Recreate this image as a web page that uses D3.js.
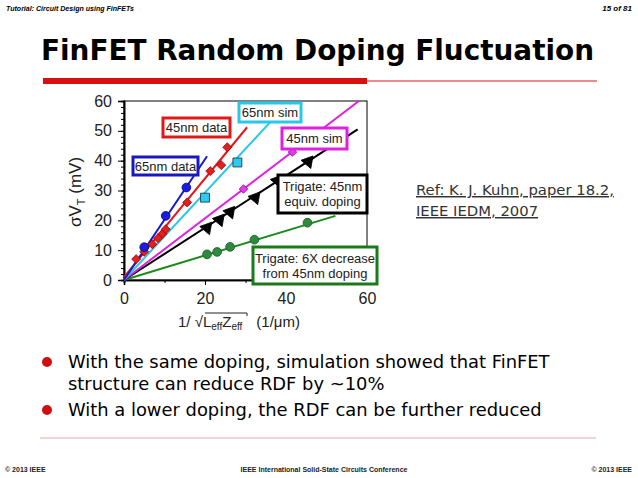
<!DOCTYPE html>
<html><head><meta charset="utf-8">
<script src="https://cdn.jsdelivr.net/npm/d3@7"></script>
<style>
html,body{margin:0;padding:0;background:#fff;}
svg{display:block;}
</style></head>
<body>
<svg id="c" width="638" height="478"></svg>
<script>
// ---- data ----
const xTicks = [0, 20, 40, 60];
const yTicks = [0, 10, 20, 30, 40, 50, 60];
const data65nm = [[5, 11], [10.3, 21.5], [15.4, 31]];
const fit65nm = [[0, 0], [20.5, 41.5]];
const data45nm = [[3, 7], [5, 9.5], [7, 12], [8.4, 14], [9.5, 15.5], [10.3, 17], [15.6, 26], [21.3, 36.5], [24, 38.5], [25.5, 44.5]];
const fit45nm = [[0, 1], [30.4, 51.2]];
const sim65nm = [[20, 27.6], [28, 39.4]];
const fitSim65 = [[0, 0], [40, 58.6]];
const sim45nm = [[29.5, 30.5], [41.6, 42.9]];
const fitSim45 = [[0, 0], [58, 60]];
const trigate45 = [[20.5, 17.5], [23.6, 20.2], [26.2, 22.8], [32.4, 27.6], [37.9, 33.3], [45.5, 39.7]];
const fitTri45 = [[0, 0], [57.7, 50.5]];
const trigate6x = [[20.5, 8.6], [23, 9.4], [26.2, 11.1], [32.2, 13.5], [45.3, 19.2]];
const fitTri6x = [[0, 0], [52.2, 21.5]];
const bullets = [
  ["With the same doping, simulation showed that FinFET", "structure can reduce RDF by ~10%"],
  ["With a lower doping, the RDF can be further reduced"]
];

const svg = d3.select("#c");
const x = d3.scaleLinear().domain([0, 60]).range([124, 367]);
const y = d3.scaleLinear().domain([0, 60]).range([280, 101]);

// ---- slide chrome ----
svg.append("text").attr("x", 6).attr("y", 11).attr("font-family", "Liberation Sans, Arial")
  .attr("font-size", 8).attr("font-weight", "bold").attr("font-style", "italic")
  .attr("textLength", 128).attr("lengthAdjust", "spacingAndGlyphs").text("Tutorial: Circuit Design using FinFETs");
svg.append("text").attr("x", 632).attr("y", 11).attr("text-anchor", "end").attr("font-family", "Liberation Sans, Arial")
  .attr("font-size", 8).attr("font-weight", "bold").attr("font-style", "italic").text("15 of 81");

svg.append("text").attr("x", 41).attr("y", 60).attr("font-family", "DejaVu Sans, Verdana")
  .attr("font-size", 28).attr("font-weight", "bold").attr("fill", "#000")
  .attr("textLength", 553).attr("lengthAdjust", "spacingAndGlyphs").text("FinFET Random Doping Fluctuation");
svg.append("line").attr("x1", 43).attr("x2", 597).attr("y1", 81).attr("y2", 81).attr("stroke", "#d01818").attr("stroke-width", 1);
svg.append("rect").attr("x", 43).attr("y", 78).attr("width", 324).attr("height", 6).attr("fill", "#d81010");

// ---- chart ----
const g = svg.append("g");
g.append("rect").attr("x", x(0)).attr("y", y(60)).attr("width", x(60) - x(0)).attr("height", y(0) - y(60))
  .attr("fill", "none").attr("stroke", "#000").attr("stroke-width", 1);

const yAxis = d3.axisLeft(y).tickValues(yTicks).tickSize(6).tickFormat(d3.format("d"));
const yMinor = d3.axisLeft(y).tickValues(d3.range(0, 61, 2)).tickSize(3).tickFormat("");
const xAxis = d3.axisBottom(x).tickValues(xTicks).tickSize(5).tickFormat(d3.format("d"));
const xMinor = d3.axisBottom(x).tickValues(d3.range(0, 61, 10)).tickSize(3).tickFormat("");

function styleAxis(sel) {
  sel.select(".domain").attr("stroke", "#000").attr("stroke-width", 1.6);
  sel.selectAll(".tick line").attr("stroke", "#000").attr("stroke-width", 1);
  sel.selectAll(".tick text").attr("font-family", "Liberation Sans, Arial").attr("font-size", 16).attr("fill", "#222");
}
g.append("g").attr("transform", `translate(${x(0)},0)`).call(yMinor).call(styleAxis);
g.append("g").attr("transform", `translate(${x(0)},0)`).call(yAxis).call(styleAxis)
  .selectAll(".tick text").attr("dx", -3);
g.append("g").attr("transform", `translate(0,${y(0)})`).call(xMinor).call(styleAxis);
g.append("g").attr("transform", `translate(0,${y(0)})`).call(xAxis).call(styleAxis)
  .selectAll(".tick text").attr("dy", "1.0em");

// axis labels
const yl = g.append("text").attr("transform", `translate(81,192) rotate(-90)`).attr("text-anchor", "middle")
  .attr("font-family", "Liberation Sans, Arial").attr("font-size", 17).attr("fill", "#222");
yl.append("tspan").text("σV");
yl.append("tspan").attr("font-size", 11).attr("dy", 4).text("T");
yl.append("tspan").attr("dy", -4).text(" (mV)");

const xl = g.append("text").attr("x", 178).attr("y", 327).attr("font-family", "Liberation Sans, Arial")
  .attr("font-size", 15).attr("fill", "#222");
xl.append("tspan").text("1/ √");
xl.append("tspan").text("L");
xl.append("tspan").attr("font-size", 10).attr("dy", 3).text("eff");
xl.append("tspan").attr("dy", -3).text("Z");
xl.append("tspan").attr("font-size", 10).attr("dy", 3).text("eff");
xl.append("tspan").attr("dy", -3).attr("dx", 14).text("(1/μm)");
g.append("line").attr("x1", 205).attr("x2", 247).attr("y1", 313).attr("y2", 313).attr("stroke", "#222").attr("stroke-width", 1);
g.append("line").attr("x1", 247).attr("x2", 247).attr("y1", 313).attr("y2", 316).attr("stroke", "#222").attr("stroke-width", 1);

// lines and points
const line = d3.line().x(d => x(d[0])).y(d => y(d[1]));
function drawLine(pts, color) {
  g.append("path").attr("d", line(pts)).attr("fill", "none").attr("stroke", color).attr("stroke-width", 2);
}
function drawPts(pts, sym, size, fill, stroke, rot) {
  g.selectAll(null).data(pts).enter().append("path")
    .attr("d", d3.symbol().type(sym).size(size))
    .attr("transform", d => `translate(${x(d[0])},${y(d[1])}) rotate(${rot || 0})`)
    .attr("fill", fill).attr("stroke", stroke).attr("stroke-width", 0.8);
}
drawLine(fitTri6x, "#1a8a1a");
drawLine(fitTri45, "#000");
drawLine(fitSim45, "#e020e0");
drawLine(fitSim65, "#28c8e8");
drawLine(fit45nm, "#e01818");
drawLine(fit65nm, "#1818d0");

drawPts(trigate6x, d3.symbolCircle, 60, "#2e8b3e", "#135a20");
drawPts(trigate45, d3.symbolTriangle, 70, "#000", "#000", -80);
drawPts(sim45nm, d3.symbolSquare, 36, "#e040e0", "#a000a0", 45);
drawPts(sim65nm, d3.symbolSquare, 80, "#30c8ec", "#103040");
drawPts(data45nm, d3.symbolSquare, 40, "#e02020", "#a00000", 45);
drawPts(data65nm, d3.symbolCircle, 60, "#1c1ce0", "#000080");

// annotation boxes
const notes = [
  {x: 163, y: 118, w: 67, h: 19, c: "#e01818", t: ["45nm data"]},
  {x: 133, y: 157, w: 65, h: 18, c: "#1818c0", t: ["65nm data"]},
  {x: 239, y: 103, w: 62, h: 19, c: "#28c8e8", t: ["65nm sim"]},
  {x: 282, y: 128, w: 65, h: 21, c: "#e020e0", t: ["45nm sim"]},
  {x: 278, y: 175, w: 89, h: 38, c: "#000", t: ["Trigate: 45nm", "equiv. doping"]},
  {x: 253, y: 247, w: 124, h: 37, c: "#1a7a1a", t: ["Trigate: 6X decrease", "from 45nm doping"]}
];
notes.forEach(n => {
  g.append("rect").attr("x", n.x).attr("y", n.y).attr("width", n.w).attr("height", n.h)
    .attr("fill", "#fff").attr("stroke", n.c).attr("stroke-width", 3);
  const lh = 15;
  const y0 = n.y + n.h / 2 - (n.t.length - 1) * lh / 2 + 4.5;
  n.t.forEach((s, i) => {
    g.append("text").attr("x", n.x + n.w / 2).attr("y", y0 + i * lh).attr("text-anchor", "middle")
      .attr("font-family", "Liberation Sans, Arial").attr("font-size", 13).attr("fill", "#222").text(s);
  });
});

// reference text
["Ref: K. J. Kuhn, paper 18.2,", "IEEE IEDM, 2007"].forEach((s, i) => {
  svg.append("text").attr("x", 416).attr("y", 195 + i * 21).attr("font-family", "DejaVu Sans, Verdana")
    .attr("font-size", 14.8).attr("fill", "#333").attr("text-decoration", "underline").text(s);
});

// bullets
let by = 368;
bullets.forEach(lines => {
  svg.append("circle").attr("cx", 47).attr("cy", by - 6).attr("r", 5).attr("fill", "#d01010");
  lines.forEach((s, i) => {
    svg.append("text").attr("x", 68).attr("y", by).attr("font-family", "DejaVu Sans, Verdana")
      .attr("font-size", 17.9).attr("fill", "#000").text(s);
    by += 22;
  });
  by += 4;
});

svg.append("line").attr("x1", 40).attr("x2", 596).attr("y1", 438).attr("y2", 438).attr("stroke", "#e8c8c8").attr("stroke-width", 1.5);

// footer
const ff = {"font-family": "Liberation Sans, Arial", "font-size": 7, "font-weight": "bold", "fill": "#222"};
function ft(xp, anchor, s) {
  const t = svg.append("text").attr("x", xp).attr("y", 472).attr("text-anchor", anchor).text(s);
  Object.entries(ff).forEach(([k, v]) => t.attr(k, v));
}
ft(5, "start", "© 2013 IEEE");
ft(324, "middle", "IEEE International Solid-State Circuits Conference");
ft(632, "end", "© 2013 IEEE");
</script>
</body></html>
